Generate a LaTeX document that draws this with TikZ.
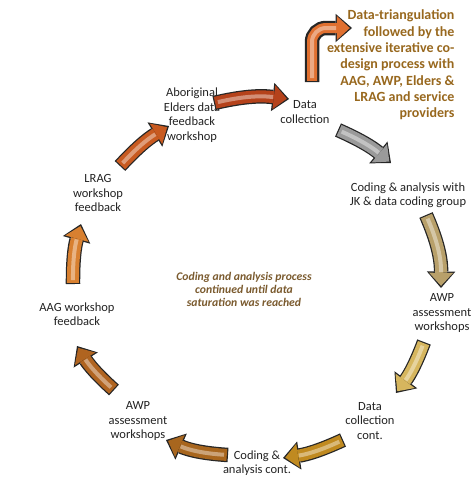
\documentclass[tikz,border=0pt]{standalone}
\usepackage{fontspec}
\setmainfont{Carlito}
\usetikzlibrary{arrows.meta, positioning}
\definecolor{txtgrey}{HTML}{222222}
\definecolor{notebrown}{HTML}{7A5A2E}
\definecolor{tribrown}{HTML}{98681E}
\definecolor{cElders}{HTML}{B5421B}
\definecolor{cGrey}{HTML}{9A9A9A}
\definecolor{cKhaki}{HTML}{B8A06A}
\definecolor{cPale}{HTML}{D6B65E}
\definecolor{cGold}{HTML}{C08A20}
\definecolor{cBrown}{HTML}{A8661E}
\definecolor{cRust}{HTML}{B06420}
\definecolor{cOrange}{HTML}{D88030}
\definecolor{cDark}{HTML}{C85A20}
\definecolor{cBend}{HTML}{E07030}
\tikzset{
    stage/.style={align=center, font=\fontsize{12.5}{14.5}\selectfont, text=txtgrey, inner sep=1pt},
    flow/.style={line width=12pt, draw=#1, -{Triangle[length=13pt,width=24pt,line width=0pt]},
        shorten >=2.2pt, shorten <=1.2pt,
        preaction={draw=black!85, line width=14.5pt, -{Triangle[length=16.5pt,width=28.5pt,line width=0pt]},
            shorten >=0pt, shorten <=0pt},
        postaction={draw=#1!60!white, line width=4pt, -, shorten >=16pt, shorten <=4pt}}
}
\begin{document}
\begin{tikzpicture}[x=1pt, y=1pt]
    \useasboundingbox (0,0) rectangle (474,-479);
    % stages of the cycle
    \node (collect) [stage] at (305,-112) {Data\\collection};
    \node (coding) [stage] at (408,-195) {Coding \& analysis with\\JK \& data coding group};
    \node (awpA) [stage] at (442,-313) {AWP\\assessment\\workshops};
    \node (datacont) [stage] at (370,-421) {Data\\collection\\cont.};
    \node (codecont) [stage] at (257,-463) {Coding \&\\analysis cont.};
    \node (awpB) [stage] at (138,-421) {AWP\\assessment\\workshops};
    \node (aag) [stage] at (77,-314) {AAG workshop\\feedback};
    \node (lrag) [stage] at (98,-193) {LRAG\\workshop\\feedback};
    \node (elders) [stage] at (192,-115) {Aboriginal\\Elders data\\feedback\\workshop};
    \node (note) [align=center, text=notebrown, font=\fontsize{11.7}{13}\selectfont\bfseries\itshape] at (244,-289)
        {Coding and analysis process\\continued until data\\saturation was reached};
    \node (tri) [align=right, anchor=east, text=tribrown, font=\fontsize{14}{16.3}\selectfont\bfseries] at (458,-65)
        {Data-triangulation\\followed by the\\extensive iterative co-\\design process with\\AAG, AWP, Elders \&\\LRAG and service\\providers};

    % arrows round the cycle
    \draw [flow=cElders] ([shift={(22,12)}]elders.center) to[bend left=10] ([shift={(-16,13)}]collect.center);
    \draw [flow=cGrey] ([shift={(33,-18)}]collect.center) to[bend left=8] ([shift={(-17,32)}]coding.center);
    \draw [flow=cKhaki] ([shift={(18,-20)}]coding.center) to[bend left=12] ([shift={(-1,25)}]awpA.center);
    \draw [flow=cPale] ([shift={(-18,-29)}]awpA.center) to[bend left=8] ([shift={(26,28)}]datacont.center);
    \draw [flow=cGold] ([shift={(-27,-19)}]datacont.center) to[bend left=8] ([shift={(26,5)}]codecont.center);
    \draw [flow=cBrown] ([shift={(-29,8)}]codecont.center) to[bend left=10] ([shift={(28,-19)}]awpB.center);
    \draw [flow=cRust] ([shift={(-24,31)}]awpB.center) to[bend left=8] ([shift={(0,-32)}]aag.center);
    \draw [flow=cOrange] ([shift={(-4,30)}]aag.center) to[bend left=8] ([shift={(-17,-31)}]lrag.center);
    \draw [flow=cDark] ([shift={(22,27)}]lrag.center) to[bend left=8] ([shift={(-23,-11)}]elders.center);

    % bent arrow to the note on triangulation
    \coordinate (bendfoot) at (312,-82);
    \coordinate (bendtip) at (352,-28);
    \draw [flow=cBend, line width=10pt, preaction={line width=12.5pt}, rounded corners=14pt] (bendfoot) |- (bendtip);
\end{tikzpicture}
\end{document}
